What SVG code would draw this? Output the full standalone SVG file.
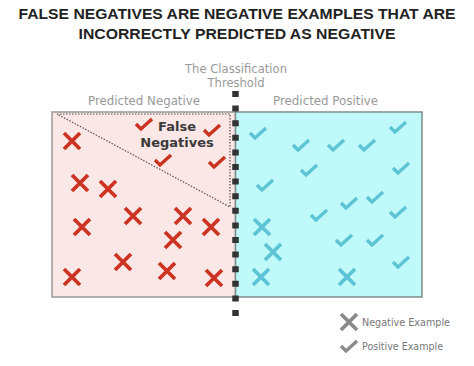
<svg xmlns="http://www.w3.org/2000/svg" width="474" height="366" viewBox="0 0 474 366">
<defs>
<style>
.title{font-family:"Liberation Sans","DejaVu Sans",sans-serif;font-weight:bold;font-size:15.5px;fill:#222;text-anchor:middle}
.lbl{font-family:"DejaVu Sans","Liberation Sans",sans-serif;font-size:11.5px;fill:#9a9a9a;text-anchor:middle}
.leg{font-family:"DejaVu Sans","Liberation Sans",sans-serif;font-size:11px;fill:#777}
.fn{font-family:"DejaVu Sans","Liberation Sans",sans-serif;font-weight:bold;font-size:13px;fill:#3a3a3a;text-anchor:middle}
.rx{stroke:#cc3322;stroke-width:3.8;fill:none}
.rc{stroke:#c8321e;stroke-width:3.4;fill:none}
.cx{stroke:#5cc4d4;stroke-width:3.8;fill:none}
.cc{stroke:#5cc4d4;stroke-width:3.4;fill:none}
.gx{stroke:#8a8a8a;stroke-width:3.8;fill:none}
.gc{stroke:#8a8a8a;stroke-width:3.4;fill:none}
</style>
<path id="x" d="M-8,-8L8,8M8,-8L-8,8"/>
<path id="c" d="M-8,-1L-3,4L8,-6"/>
</defs>
<rect width="474" height="366" fill="#fff"/>
<g id="title">
<text class="title" x="237" y="19" textLength="437" lengthAdjust="spacingAndGlyphs">FALSE NEGATIVES ARE NEGATIVE EXAMPLES THAT ARE</text>
<text class="title" x="237" y="38.5" textLength="317" lengthAdjust="spacingAndGlyphs">INCORRECTLY PREDICTED AS NEGATIVE</text>
</g>
<g id="threshold-label">
<text class="lbl" x="236" y="73" textLength="102" lengthAdjust="spacingAndGlyphs">The Classification</text>
<text class="lbl" x="236" y="87" textLength="57" lengthAdjust="spacingAndGlyphs">Threshold</text>
</g>
<g id="predicted-negative">
<text class="lbl" x="144" y="105" textLength="112" lengthAdjust="spacingAndGlyphs">Predicted Negative</text>
<rect x="52" y="112" width="183.5" height="185" fill="#fbe7e5" stroke="#999" stroke-width="1.5"/>
<path d="M57,114H230V207L57,114" fill="none" stroke="#555" stroke-width="1.2" stroke-dasharray="1.5 1.5"/>
<text class="fn" x="177" y="131">False</text>
<text class="fn" x="177" y="147">Negatives</text>
</g>
<g id="predicted-positive">
<text class="lbl" x="325.5" y="105" textLength="105" lengthAdjust="spacingAndGlyphs">Predicted Positive</text>
<rect x="235.5" y="112" width="186.5" height="185" fill="#bff9f9" stroke="#7d8c8c" stroke-width="1.5"/>
</g>
<g id="negative-marks">
<use href="#x" class="rx" x="72" y="141"/>
<use href="#x" class="rx" x="80" y="183"/>
<use href="#x" class="rx" x="108" y="189"/>
<use href="#x" class="rx" x="133" y="216"/>
<use href="#x" class="rx" x="183" y="216"/>
<use href="#x" class="rx" x="82" y="227"/>
<use href="#x" class="rx" x="211" y="227"/>
<use href="#x" class="rx" x="173" y="240"/>
<use href="#x" class="rx" x="123" y="262"/>
<use href="#x" class="rx" x="167" y="271"/>
<use href="#x" class="rx" x="72" y="277"/>
<use href="#x" class="rx" x="214" y="278"/>
<use href="#c" class="rc" x="144" y="125"/>
<use href="#c" class="rc" x="212" y="131"/>
<use href="#c" class="rc" x="163" y="161"/>
<use href="#c" class="rc" x="217" y="163"/>
</g>
<g id="positive-marks">
<use href="#c" class="cc" x="258" y="134"/>
<use href="#c" class="cc" x="301" y="146"/>
<use href="#c" class="cc" x="336" y="146"/>
<use href="#c" class="cc" x="367" y="146"/>
<use href="#c" class="cc" x="398" y="128"/>
<use href="#c" class="cc" x="309" y="171"/>
<use href="#c" class="cc" x="401" y="169"/>
<use href="#c" class="cc" x="265" y="186"/>
<use href="#c" class="cc" x="349" y="204"/>
<use href="#c" class="cc" x="375" y="198"/>
<use href="#c" class="cc" x="398" y="213"/>
<use href="#c" class="cc" x="319" y="216"/>
<use href="#c" class="cc" x="344" y="241"/>
<use href="#c" class="cc" x="375" y="241"/>
<use href="#c" class="cc" x="401" y="263"/>
<use href="#x" class="cx" x="262" y="227"/>
<use href="#x" class="cx" x="273" y="252"/>
<use href="#x" class="cx" x="261" y="277"/>
<use href="#x" class="cx" x="347" y="277"/>
</g>
<g id="connectors">
<line x1="235.5" y1="91" x2="235.5" y2="316" stroke="#333" stroke-width="6.5" stroke-dasharray="6 8.6"/>
</g>
<g id="legend">
<use href="#x" class="gx" x="349" y="322"/>
<text class="leg" x="362" y="326" textLength="88" lengthAdjust="spacingAndGlyphs">Negative Example</text>
<use href="#c" class="gc" x="349" y="347"/>
<text class="leg" x="362" y="350" textLength="81" lengthAdjust="spacingAndGlyphs">Positive Example</text>
</g>
</svg>
